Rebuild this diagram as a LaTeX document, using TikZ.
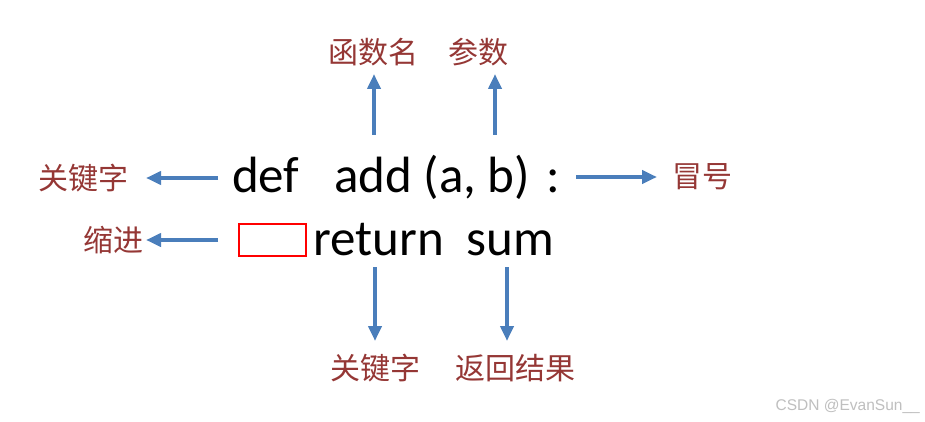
\documentclass[tikz,border=0pt]{standalone}
\usepackage{fontspec}
\usetikzlibrary{arrows.meta}
\newfontfamily\codefont{Carlito}
\newfontfamily\cjk{Noto Sans CJK SC}
\newfontfamily\wmfont{Liberation Sans}
\definecolor{arrblue}{HTML}{4A7EBB}
\definecolor{lblred}{HTML}{953735}
\tikzset{
  arr/.style={draw=arrblue, line width=4pt, -{Triangle[length=15pt,width=13pt]}},
  lbl/.style={text=lblred, font=\cjk\fontsize{30}{32}\selectfont, inner sep=0pt},
  code/.style={text=black, font=\codefont\fontsize{51}{56}\selectfont, inner sep=0pt},
}
\begin{document}
\begin{tikzpicture}[x=1pt,y=-1pt]
\useasboundingbox[fill=white] (0,0) rectangle (925,422);
% code lines
\node[code, anchor=base west] (line1) at (232,193) {def\ \ \ add (a, b)\ \kern5pt:};
\node[code, anchor=base west] (line2) at (313,255) {return\ \ sum};
\node[draw=red, line width=1.6pt, minimum width=67pt, minimum height=32pt, inner sep=0pt, anchor=north west] (indent) at (238,223) {};
% labels
\node[lbl] (kw1) at (83,178) {关键字};
\node[lbl] (indentlbl) at (113,240) {缩进};
\node[lbl] (colon) at (702,177) {冒号};
\node[lbl] (fname) at (373,52) {函数名};
\node[lbl] (params) at (478,52) {参数};
\node[lbl] (kw2) at (375,368) {关键字};
\node[lbl] (ret) at (515,368) {返回结果};
% arrow endpoints
\coordinate (l1s) at (218,178); \coordinate (l1e) at (146,178);
\coordinate (l2s) at (218,240); \coordinate (l2e) at (146,240);
\coordinate (r1s) at (576,177); \coordinate (r1e) at (657,177);
\coordinate (t1s) at (374,135); \coordinate (t1e) at (374,74);
\coordinate (t2s) at (495,135); \coordinate (t2e) at (495,74);
\coordinate (b1s) at (375,267); \coordinate (b1e) at (375,341);
\coordinate (b2s) at (507,267); \coordinate (b2e) at (507,341);
\draw[arr] (l1s) -- (l1e);
\draw[arr] (l2s) -- (l2e);
\draw[arr] (r1s) -- (r1e);
\draw[arr] (t1s) -- (t1e);
\draw[arr] (t2s) -- (t2e);
\draw[arr] (b1s) -- (b1e);
\draw[arr] (b2s) -- (b2e);
% watermark
\node[text=black!25, font=\wmfont\fontsize{15.5}{18}\selectfont, inner sep=0pt, anchor=east] (wm) at (920,406) {CSDN @EvanSun\_\_};
\end{tikzpicture}
\end{document}
